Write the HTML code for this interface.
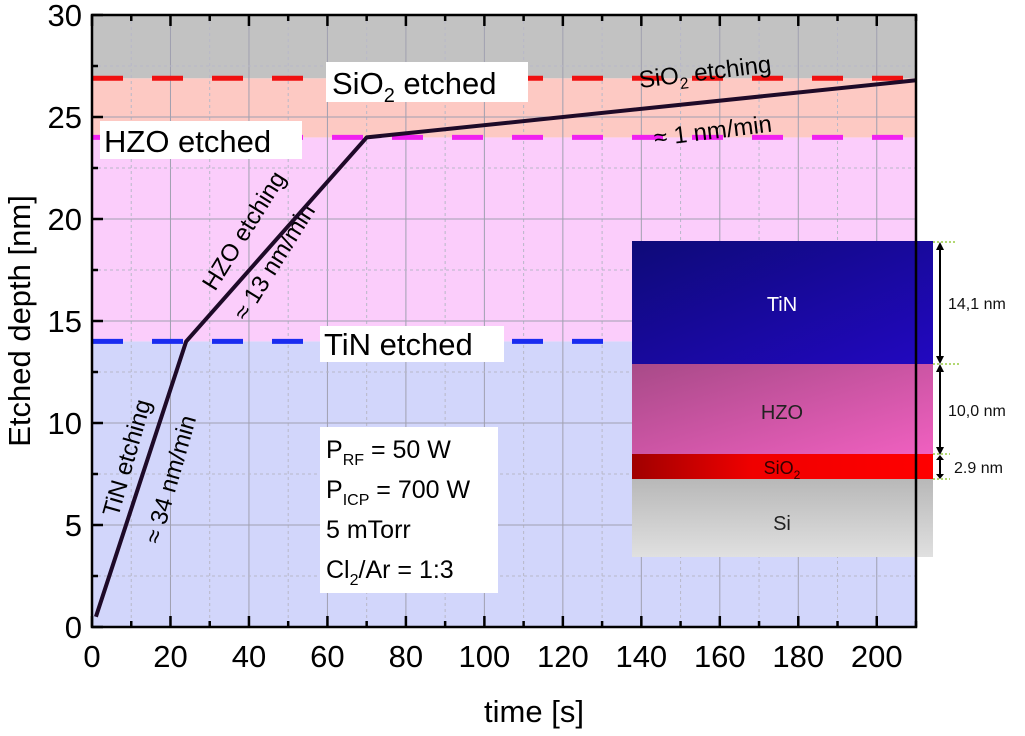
<!DOCTYPE html>
<html><head><meta charset="utf-8"><style>
body{margin:0;background:#fff;}
svg text{font-family:"Liberation Sans",sans-serif;}
</style></head><body>
<svg id="chart" width="1025" height="731" viewBox="0 0 1025 731" xmlns="http://www.w3.org/2000/svg">
<g id="bands"></g>
<g id="grid"></g>
<g id="dash"></g>
<g id="labels">
  <rect x="326" y="62" width="202" height="40" fill="#fff"/>
  <text x="332" y="94" font-size="31">SiO<tspan font-size="20" dy="8">2</tspan><tspan dy="-8"> etched</tspan></text>
  <rect x="100" y="121" width="202" height="38" fill="#fff"/>
  <text x="104" y="152" font-size="31">HZO etched</text>
  <rect x="320" y="326" width="184" height="36" fill="#fff"/>
  <text x="324" y="355" font-size="31">TiN etched</text>
  <text transform="translate(640,88) rotate(-7)" font-size="24">SiO<tspan font-size="16" dy="6">2</tspan><tspan dy="-6"> etching</tspan></text>
  <text transform="translate(655,146) rotate(-7)" font-size="24">≈ 1 nm/min</text>
  <text transform="translate(215,292) rotate(-58)" font-size="24">HZO etching</text>
  <text transform="translate(246,322) rotate(-58)" font-size="24">≈ 13 nm/min</text>
  <text transform="translate(118,518) rotate(-74)" font-size="24">TiN etching</text>
  <text transform="translate(160,545) rotate(-74)" font-size="24">≈ 34 nm/min</text>
  <rect x="320" y="427" width="178" height="166" fill="#fff"/>
  <g font-size="25">
    <text x="326" y="458">P<tspan font-size="16" dy="7">RF</tspan><tspan dy="-7"> = 50 W</tspan></text>
    <text x="326" y="498">P<tspan font-size="16" dy="7">ICP</tspan><tspan dy="-7"> = 700 W</tspan></text>
    <text x="326" y="538">5 mTorr</text>
    <text x="326" y="578">Cl<tspan font-size="16" dy="7">2</tspan><tspan dy="-7">/Ar = 1:3</tspan></text>
  </g>
</g>
<g id="series"></g>
<g>
  <defs>
    <linearGradient id="gt" x1="0" y1="0" x2="1" y2="1"><stop offset="0" stop-color="#0e0a78"/><stop offset="1" stop-color="#2208c0"/></linearGradient>
    <linearGradient id="gh" x1="0" y1="0" x2="1" y2="1"><stop offset="0" stop-color="#a84a88"/><stop offset="1" stop-color="#f060c0"/></linearGradient>
    <linearGradient id="gs" x1="0" y1="0" x2="1" y2="0"><stop offset="0" stop-color="#a00000"/><stop offset="0.4" stop-color="#f00000"/><stop offset="1" stop-color="#ff0000"/></linearGradient>
    <linearGradient id="gsi" x1="0" y1="0" x2="0" y2="1"><stop offset="0" stop-color="#b8b8b8"/><stop offset="1" stop-color="#e0e0e0"/></linearGradient>
  </defs>
  <rect x="632" y="241" width="301" height="123" fill="url(#gt)"/>
  <rect x="632" y="364" width="301" height="90" fill="url(#gh)"/>
  <rect x="632" y="454" width="301" height="25" fill="url(#gs)"/>
  <rect x="632" y="479" width="301" height="78" fill="url(#gsi)"/>
  <g font-size="20">
    <text x="782" y="311" fill="#fff" text-anchor="middle" font-family="DejaVu Sans">TiN</text>
    <text x="782" y="419" fill="#222" text-anchor="middle" font-family="DejaVu Sans">HZO</text>
    <text x="782" y="474" fill="#300" text-anchor="middle" font-family="DejaVu Sans" font-size="18">SiO<tspan font-size="12" dy="5">2</tspan></text>
    <text x="782" y="530" fill="#222" text-anchor="middle" font-family="DejaVu Sans">Si</text>
  </g>
  <g stroke="#000" stroke-width="2" fill="#000">
    <line x1="940" y1="244" x2="940" y2="361"/><line x1="940" y1="367" x2="940" y2="451"/><line x1="940" y1="457" x2="940" y2="476"/>
    <polygon points="936,250 944,250 940,242" stroke="none"/><polygon points="936,356 944,356 940,364" stroke="none"/>
    <polygon points="936,372 944,372 940,364" stroke="none"/><polygon points="936,447 944,447 940,455" stroke="none"/>
    <polygon points="936,460 944,460 940,455" stroke="none"/><polygon points="936,474 944,474 940,479" stroke="none"/>
  </g>
  <g stroke="#9c4" stroke-width="1.5" stroke-dasharray="2,2"><line x1="933" y1="242" x2="955" y2="242"/><line x1="933" y1="364" x2="960" y2="364"/><line x1="933" y1="454" x2="950" y2="454"/><line x1="933" y1="479" x2="950" y2="479"/></g>
  <g font-size="16" fill="#111">
    <text x="948" y="309" font-family="DejaVu Sans">14,1 nm</text>
    <text x="948" y="416" font-family="DejaVu Sans">10,0 nm</text>
    <text x="954" y="473" font-family="DejaVu Sans">2.9 nm</text>
  </g>
</g>
<g id="axes"></g>
</svg>
<script>
const xTicks=[0,20,40,60,80,100,120,140,160,180,200];
const yTicks=[0,5,10,15,20,25,30];
const bandBounds=[0,14,24,26.9,30];
const bandColors=['#d2d6fb','#fbcdfb','#fdc9c3','#c2c2c2'];
const thresholds=[14,24,26.9];
const thresholdColors=['#1a2cf0','#f020f0','#f01010'];
const times=[1,24,70,210];
const depths=[0.5,14,24,26.8];
const L=92,R=916,T=15,B=627,XMAX=210,YMAX=30;
const sx=v=>L+v*(R-L)/XMAX, sy=v=>B-v*(B-T)/YMAX;
const NS='http://www.w3.org/2000/svg';
function mk(p,t,a){const e=document.createElementNS(NS,t);for(const k in a)e.setAttribute(k,a[k]);p.appendChild(e);return e;}
const bands=document.getElementById('bands');
for(let i=0;i<bandColors.length;i++){const r=mk(bands,'rect',{x:L,y:sy(bandBounds[i+1]),width:R-L,height:sy(bandBounds[i])-sy(bandBounds[i+1]),fill:bandColors[i]});

}
const grid=document.getElementById('grid');
for(let v=10;v<XMAX;v+=10){const a={x1:sx(v),x2:sx(v),y1:T,y2:B,stroke:v%20?'#b8b8c8':'#a0a0b0','stroke-width':1};if(v%20)a['stroke-dasharray']='3,3';const l=mk(grid,'line',a);

}
for(let v=2.5;v<YMAX;v+=2.5){const a={x1:L,x2:R,y1:sy(v),y2:sy(v),stroke:v%5?'#b8b8c8':'#a0a0b0','stroke-width':1};if(v%5)a['stroke-dasharray']='3,3';const l=mk(grid,'line',a);

}
const dash=document.getElementById('dash');
thresholds.forEach((t,i)=>{const l=mk(dash,'line',{x1:L,x2:R,y1:sy(t),y2:sy(t),stroke:thresholdColors[i],'stroke-width':5,'stroke-dasharray':'31,29'});

});
const series=document.getElementById('series');
const pl=mk(series,'polyline',{points:times.map((t,i)=>sx(t)+','+sy(depths[i])).join(' '),fill:'none',stroke:'#1e0a28','stroke-width':4,'stroke-linejoin':'round'});


const ax=document.getElementById('axes');
mk(ax,'rect',{x:L,y:T,width:R-L,height:B-T,fill:'none',stroke:'#000','stroke-width':2.5});
for(let v=0;v<=XMAX;v+=10){mk(ax,'line',{x1:sx(v),x2:sx(v),y1:B,y2:B-(v%20?6:11),stroke:'#000','stroke-width':2.5});mk(ax,'line',{x1:sx(v),x2:sx(v),y1:T,y2:T+(v%20?6:11),stroke:'#000','stroke-width':2.5});}
for(let v=0;v<=YMAX;v+=2.5){mk(ax,'line',{x1:L,x2:L+(v%5?6:11),y1:sy(v),y2:sy(v),stroke:'#000','stroke-width':2.5});}
xTicks.forEach(v=>{const t=mk(ax,'text',{x:sx(v),y:B+40,'font-size':31,'text-anchor':'middle'});t.textContent=v;

});
yTicks.forEach(v=>{const t=mk(ax,'text',{x:L-10,y:sy(v)+11,'font-size':31,'text-anchor':'end'});t.textContent=v;

});
const xt=mk(ax,'text',{x:(L+R)/2+30,y:722,'font-size':31,'text-anchor':'middle'});xt.textContent='time [s]';


const yt=mk(ax,'text',{transform:'translate(30,'+((T+B)/2)+') rotate(-90)','font-size':31,'text-anchor':'middle'});yt.textContent='Etched depth [nm]';


</script>
</body></html>
